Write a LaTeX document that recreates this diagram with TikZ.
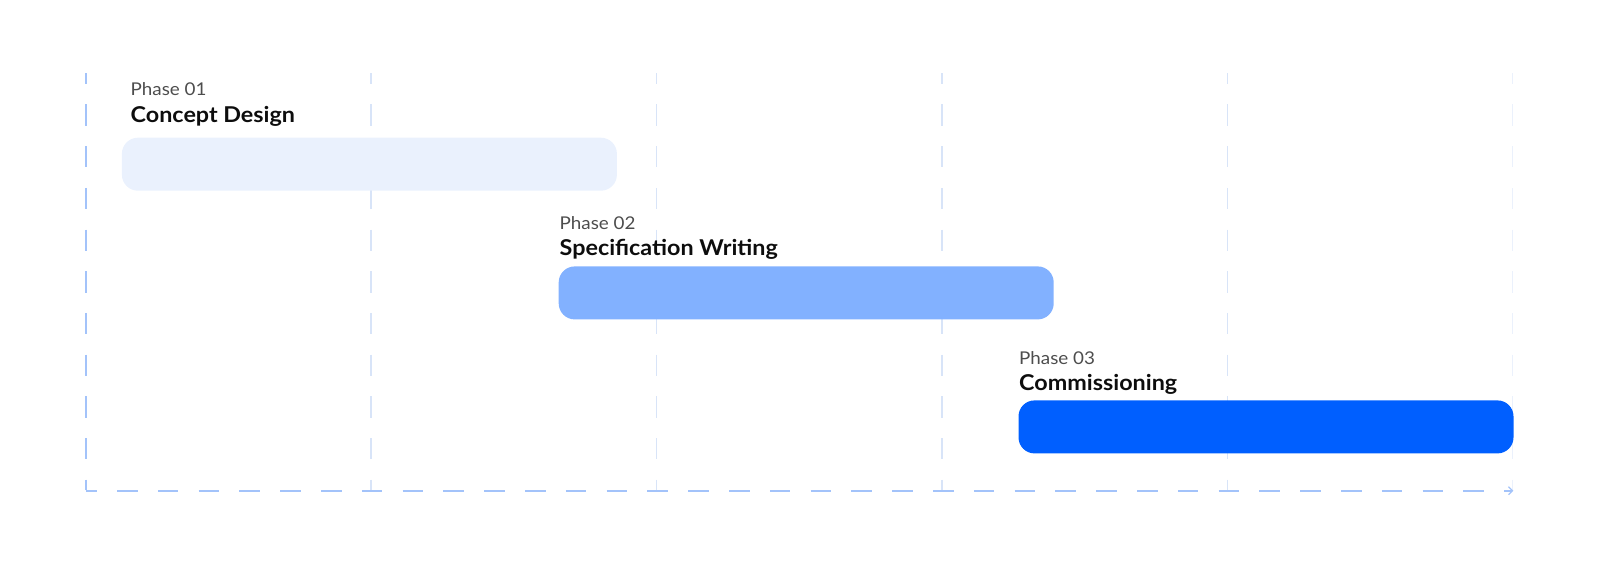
\documentclass[tikz,border=0pt]{standalone}
\usepackage{fontspec}
\setmainfont{Lato}[FakeStretch=1.07]
\usetikzlibrary{arrows.meta}
\definecolor{axiscol}{HTML}{A3C3FA}
\definecolor{gridcol}{HTML}{D8E4F8}
\definecolor{gridlast}{HTML}{EBF1FC}
\definecolor{barA}{HTML}{EAF1FD}
\definecolor{barB}{HTML}{82B1FF}
\definecolor{barC}{HTML}{005FFF}
\definecolor{phasecol}{HTML}{4D4D4D}
\definecolor{titlecol}{HTML}{0D0D0D}
\tikzset{
  vdash/.style={line width=1.5pt, dash pattern=on 21.3pt off 20.4pt, dash phase=10.6pt},
  hdash/.style={line width=1.6pt, dash pattern=on 20.5pt off 20.3pt, dash phase=9.5pt},
  bar/.style={draw=none, rounded corners=16pt, minimum width=495pt, minimum height=53pt, inner sep=0pt, anchor=north west},
  phase/.style={anchor=base west, inner sep=0pt, font=\fontsize{17.6}{20}\selectfont, text=phasecol},
  ttl/.style={anchor=base west, inner sep=0pt, font=\fontsize{21.8}{25}\selectfont\bfseries, text=titlecol},
}
\begin{document}
\begin{tikzpicture}[x=1pt,y=-1pt]
\useasboundingbox (0,0) rectangle (1600,565);
% grid
\coordinate (g1t) at (371.1,73.3);   \coordinate (g1b) at (371.1,490.7);
\coordinate (g2t) at (656.5,73.3);   \coordinate (g2b) at (656.5,490.7);
\coordinate (g3t) at (941.9,73.3);   \coordinate (g3b) at (941.9,490.7);
\coordinate (g4t) at (1227.3,73.3);  \coordinate (g4b) at (1227.3,490.7);
\coordinate (g5t) at (1512.7,73.3);  \coordinate (g5b) at (1512.7,490.7);
\foreach \i in {1,2,3,4} {\draw[vdash, gridcol] (g\i t) -- (g\i b);}
\draw[vdash, gridlast] (g5t) -- (g5b);
% axes
\coordinate (ytop) at (85.7,73.3);
\coordinate (origin) at (85.7,490.7);
\coordinate (xend) at (1513.3,490.7);
\draw[vdash, line width=1.7pt, axiscol] (ytop) -- ([yshift=0.8pt]origin);
\draw[hdash, axiscol, -{Straight Barb[length=4pt,width=8pt,line width=1.2pt]}] (origin) -- (xend);
% bars
\node[bar, fill=barA] (bar1) at (121.7,137.5) {};
\node[bar, fill=barB] (bar2) at (558.5,266.2) {};
\node[bar, fill=barC] (bar3) at (1018.3,400.2) {};
% labels
\node[phase] (p1) at (130.5,95) {Phase 01};
\node[ttl] (t1) at (130.5,122.3) {Concept Design};
\node[phase] (p2) at (559.5,229) {Phase 02};
\node[ttl] (t2) at (559.5,255.7) {Specification Writing};
\node[phase] (p3) at (1019,364) {Phase 03};
\node[ttl] (t3) at (1019,390.7) {Commissioning};
\end{tikzpicture}
\end{document}
